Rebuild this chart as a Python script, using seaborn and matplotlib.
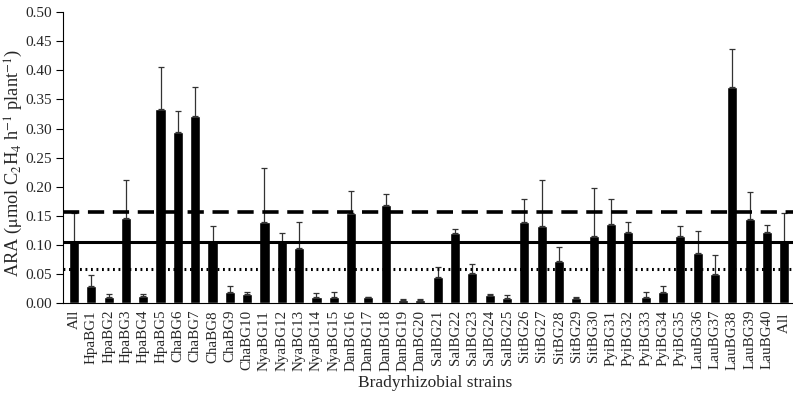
import numpy as np
import pandas as pd
import matplotlib
matplotlib.use('Agg')
import matplotlib.pyplot as plt
import seaborn as sns

# 菌株名称
strains = ['All', 'HpaBG1', 'HpaBG2', 'HpaBG3', 'HpaBG4', 'HpaBG5', 'ChaBG6', 'ChaBG7',
           'ChaBG8', 'ChaBG9', 'ChaBG10', 'NyaBG11', 'NyaBG12', 'NyaBG13', 'NyaBG14',
           'NyaBG15', 'DanBG16', 'DanBG17', 'DanBG18', 'DanBG19', 'DanBG20', 'SalBG21',
           'SalBG22', 'SalBG23', 'SalBG24', 'SalBG25', 'SitBG26', 'SitBG27', 'SitBG28',
           'SitBG29', 'SitBG30', 'PyiBG31', 'PyiBG32', 'PyiBG33', 'PyiBG34', 'PyiBG35',
           'LauBG36', 'LauBG37', 'LauBG38', 'LauBG39', 'LauBG40', 'All ']

# ARA 平均值
ara = [0.105, 0.030, 0.011, 0.147, 0.012, 0.333, 0.294, 0.322, 0.105, 0.019, 0.015,
       0.139, 0.105, 0.094, 0.011, 0.010, 0.155, 0.010, 0.169, 0.006, 0.006, 0.045,
       0.120, 0.052, 0.014, 0.009, 0.139, 0.133, 0.073, 0.008, 0.115, 0.136, 0.122,
       0.011, 0.019, 0.116, 0.086, 0.050, 0.372, 0.145, 0.122, 0.105]

# 误差棒顶端
err_top = [0.155, 0.049, 0.016, 0.212, 0.015, 0.405, 0.330, 0.372, 0.133, 0.030, 0.019,
           0.232, 0.120, 0.140, 0.018, 0.019, 0.193, 0.011, 0.188, 0.007, 0.007, 0.062,
           0.127, 0.067, 0.015, 0.014, 0.178, 0.211, 0.097, 0.010, 0.197, 0.178, 0.140,
           0.019, 0.030, 0.132, 0.124, 0.083, 0.436, 0.190, 0.134, 0.155]

# 参考线
mean_line = 0.105
upper_line = 0.157
lower_line = 0.058

df = pd.DataFrame({'strain': strains, 'ara': ara})
err = np.array(err_top) - np.array(ara)

sns.set_style('white')
plt.rcParams['font.family'] = ['Liberation Serif', 'DejaVu Serif']
plt.rcParams['mathtext.fontset'] = 'stix'

fig = plt.figure(figsize=(7.93, 3.93), dpi=100)
ax = fig.add_axes([0.0794, 0.229, 0.9206, 0.740])

sns.barplot(x='strain', y='ara', data=df, color='black', width=0.58,
            saturation=1, ax=ax, zorder=2)

# 只画向上的误差棒
x = np.arange(len(strains))
ax.errorbar(x, ara, yerr=[np.zeros(len(err)), err], fmt='none', ecolor='#333333',
            elinewidth=0.9, capsize=2.5, capthick=0.9, zorder=3)

ax.axhline(mean_line, color='black', lw=2.2, zorder=4)
ax.axhline(upper_line, color='black', lw=2.6, ls=(0, (4.5, 2.4)), zorder=4)
ax.axhline(lower_line, color='black', lw=2.2, ls=(0, (0.6, 1.2)), zorder=4)

ax.set_xlim(-0.63, 41.5)
ax.set_ylim(0, 0.5)
ax.set_yticks(np.arange(0, 0.51, 0.05))
ax.set_yticklabels([f'{v:.2f}' for v in np.arange(0, 0.51, 0.05)], fontsize=11)
ax.set_xticks(x)
ax.set_xticklabels(strains, rotation=90, fontsize=10.8)
ax.set_xticks(np.arange(-0.5, 41.6, 1), minor=True)
ax.tick_params(axis='x', which='major', length=0, pad=5)
ax.tick_params(axis='x', which='minor', length=4, width=0.8, direction='out', color='black')
ax.tick_params(axis='y', length=5, width=0.8, direction='out', color='black', left=True, pad=3)

sns.despine(ax=ax, top=True, right=True)
for s in ['left', 'bottom']:
    ax.spines[s].set_color('black')
    ax.spines[s].set_linewidth(0.8)

ax.set_ylabel('')
fig.text(0.017, 0.585, r'ARA ($\mathrm{\mu}$mol C$_2$H$_4$ h$^{-1}$ plant$^{-1}$)',
         fontsize=13.2, rotation=90, ha='center', va='center')
ax.set_xlabel('')
fig.text(0.549, 0.006, 'Bradyrhizobial strains', fontsize=12.5, ha='center', va='bottom')

plt.savefig('out.png', dpi=100)
